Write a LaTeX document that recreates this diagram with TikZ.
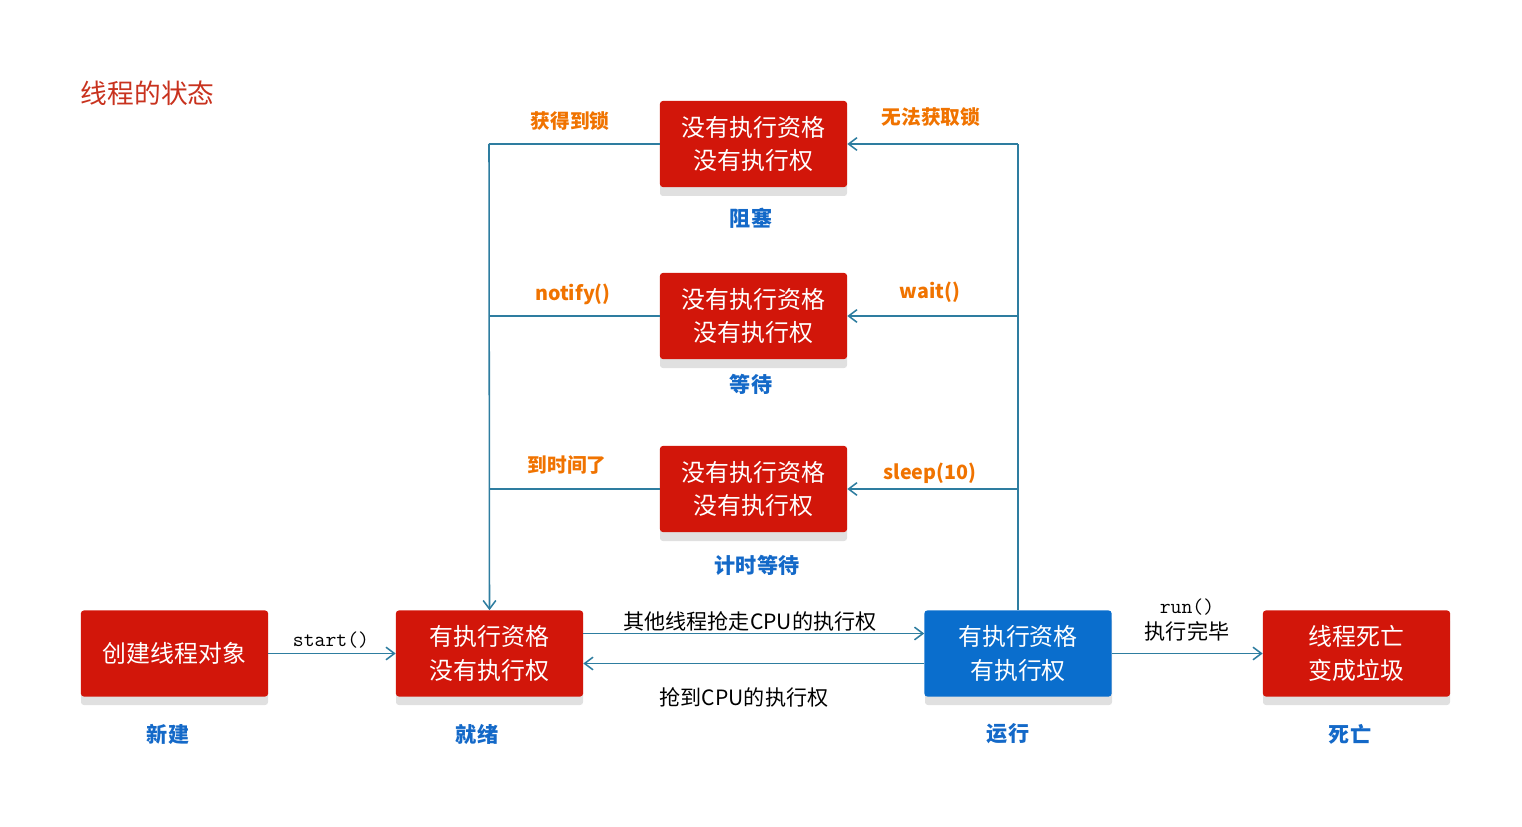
\documentclass[tikz,border=0pt]{standalone}
\usepackage{fontspec}
\setmainfont{Noto Sans CJK SC}
\usetikzlibrary{arrows.meta}
\definecolor{boxred}{RGB}{210,22,10}
\definecolor{boxblue}{RGB}{10,110,205}
\definecolor{lnc}{RGB}{46,125,160}
\definecolor{lblor}{RGB}{240,115,0}
\definecolor{lblbl}{RGB}{20,105,200}
\definecolor{ttl}{RGB}{200,50,30}
\tikzset{
 st/.style={minimum width=4.675cm,minimum height=2.15cm,rounded corners=2pt,text=white,align=center,font=\fontsize{17}{24}\selectfont,inner sep=0pt},
 redbox/.style={st,fill=boxred},
 bluebox/.style={st,fill=boxblue},
 shd/.style={fill=black!12,rounded corners=2pt},
 ln/.style={draw=lnc,line width=1.1pt},
 ar/.style={ln,-{Straight Barb[length=6pt,width=9pt]}},
 olbl/.style={text=lblor,font=\bfseries\fontsize{14}{16}\selectfont},
 blbl/.style={text=lblbl,font=\bfseries\fontsize{15}{17}\selectfont},
 tlbl/.style={font=\fontsize{15}{19}\selectfont,align=center}
}
\begin{document}
\begin{tikzpicture}[x=0.025cm,y=-0.025cm]
\useasboundingbox (0,0) rectangle (1522,827);
\node[text=ttl,font=\fontsize{19}{22}\selectfont,anchor=west] (title) at (76,93) {线程的状态};
% shadows
\foreach \x/\y in {81/610,396/610,925/610,1263/610,660/101,660/273,660/446}
  \fill[shd] (\x,\y+8) rectangle ++(187,87);
\node[redbox] (new) at (174.5,653.5) {创建线程对象};
\node[redbox] (ready) at (489.5,653.5) {有执行资格\\没有执行权};
\node[bluebox] (run) at (1018,653.5) {有执行资格\\有执行权};
\node[redbox] (dead) at (1356.5,653.5) {线程死亡\\变成垃圾};
\node[redbox] (block) at (753.5,144) {没有执行资格\\没有执行权};
\node[redbox] (wait) at (753.5,316) {没有执行资格\\没有执行权};
\node[redbox] (twait) at (753.5,489) {没有执行资格\\没有执行权};
\node[blbl] (l1) at (168,734) {新建};
\node[blbl] (l2) at (477,734) {就绪};
\node[blbl] (l3) at (1008,734) {运行};
\node[blbl] (l4) at (1350,734) {死亡};
\node[blbl] (l5) at (751,218) {阻塞};
\node[blbl] (l6) at (751,384) {等待};
\node[blbl] (l7) at (757,565) {计时等待};
% connectors
\draw[ar] (new.east) -- (ready.west);
\node[tlbl] (s) at (331,640) {\ttfamily start()};
\draw[ar] (dead.west -| run.east) ++(0,0) coordinate (re) (run.east) -- (dead.west);
\node[tlbl] (rr) at (1187,620) {\ttfamily run()\\执行完毕};
\draw[ar] ([yshift=-10*0.025cm]run.west) coordinate (a1) -- (a1 -| ready.east);
\draw[ar] ([yshift=20*0.025cm]ready.east) coordinate (a2) -- (a2 -| run.west);
\node[tlbl] (t1) at (750,621) {其他线程抢走CPU的执行权};
\node[tlbl] (t2) at (744,697) {抢到CPU的执行权};
\coordinate (L) at (489,144);
\coordinate (R) at (1018,144);
\draw[ln] (block.west) -- (L);
\draw[ln] (wait.west) -- (wait.west -| L);
\draw[ln] (twait.west) -- (twait.west -| L);
\draw[ar] (L) -- (ready.north);
\draw[ln] (run.north) -- (R);
\draw[ar] (R) -- (block.east);
\draw[ar] (wait.east -| R) -- (wait.east);
\draw[ar] (twait.east -| R) -- (twait.east);
\node[olbl] (o1) at (570,121) {获得到锁};
\node[olbl] (o2) at (931,117) {无法获取锁};
\node[olbl] (o3) at (573,294) {notify()};
\node[olbl] (o4) at (930,292) {wait()};
\node[olbl] (o5) at (567,465) {到时间了};
\node[olbl] (o6) at (930,473) {sleep(10)};
\end{tikzpicture}
\end{document}
